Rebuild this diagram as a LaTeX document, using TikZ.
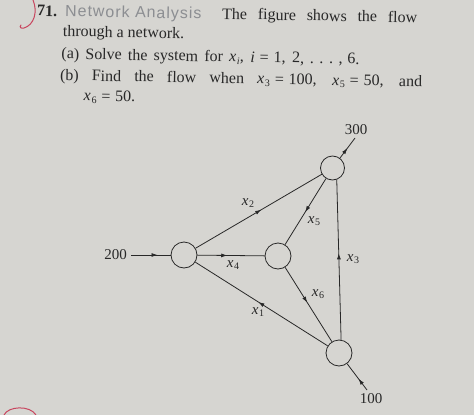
\documentclass[tikz,border=0pt]{standalone}
\usepackage{fontspec}
\setmainfont{Liberation Serif}
\newfontfamily\headsans[LetterSpace=6]{Liberation Sans}
\usetikzlibrary{calc,arrows.meta}
\definecolor{bg}{RGB}{214,213,209}
\definecolor{ink}{RGB}{40,40,40}
\definecolor{headgray}{RGB}{140,142,146}
\definecolor{pen}{RGB}{200,70,95}
\newcommand\xv[1]{\textit{x}\kern0.05em\raisebox{-0.3ex}{\fontsize{10}{10}\selectfont #1}}
\newcommand\eqs{\kern0.3em=\kern0.3em}
\newcommand\flowline[3]{%
  \draw[edge] (#1) -- (#2);
  \draw[edge, -{Latex[length=6pt,width=4pt]}] ($(#1)!#3-0.03!(#2)$) -- ($(#1)!#3!(#2)$);}
\tikzset{
 edge/.style={draw=ink, line width=0.8pt},
 junction/.style={circle, draw=ink, line width=0.8pt, minimum size=26pt, inner sep=0pt},
 lbl/.style={text=ink, font=\fontsize{15}{15}\selectfont, inner sep=1pt},
 txt/.style={text=ink, font=\fontsize{16}{19}\selectfont, anchor=base west, inner sep=0pt},
 penmark/.style={draw=pen, line width=1pt, line cap=round},
}
\begin{document}
\begin{tikzpicture}[x=1pt,y=-1pt]
\fill[bg] (0,0) rectangle (474,415);
\useasboundingbox (0,0) rectangle (474,415);

\begin{scope}[rotate around={-1:(40,16)}, transform shape]
\node[txt, font=\fontsize{16}{19}\selectfont\bfseries] (num) at (37,16) {71.};
\node[txt, text=headgray, font=\fontsize{16}{19}\headsans] (head) at (65,16) {Network Analysis};
\node[txt] (l1) at (222,16) {\makebox[195pt][s]{The figure shows the flow}};
\node[txt] (l2) at (63,36) {through a network.};
\node[txt] (l3) at (62,58.5) {\makebox[298pt][s]{(a) Solve the system for \xv{\textit{i}}, \textit{i}\eqs 1, 2,\kern0.35em.\kern0.35em.\kern0.35em.\kern0.35em,\kern0.3em6.}};
\node[txt] (l4) at (61,80) {\makebox[362pt][s]{(b) Find the flow when \xv{3}\eqs 100, \xv{5}\eqs 50, and}};
\node[txt] (l5) at (85,100) {\xv{6}\eqs 50.};
\end{scope}

\draw[penmark] (33,0) .. controls (38,12) and (34,25) .. (24,28) .. controls (21,29) and (19,27) .. (21,25);
\draw[penmark] (4,415) .. controls (8,406) and (30,405) .. (36,415);

\node[junction] (L) at (184,255) {};
\node[junction] (M) at (278,256) {};
\node[junction, minimum size=24pt] (T) at (332.5,168) {};
\node[junction] (B) at (339,353) {};
\coordinate (in200) at (131,255);
\coordinate (out300) at (355,138);
\coordinate (in100) at (367,390);
\coordinate (Bt) at (B.81);
\coordinate (Tb) at (T.-70);
\node[lbl, anchor=east] (n200) at (128,255) {200};
\node[lbl] (n300) at (356,130) {300};
\node[lbl] (n100) at (371,399) {100};

\flowline{in200}{L}{0.5}
\flowline{L}{T}{0.52}
\flowline{L}{M}{0.46}
\flowline{B}{L}{0.52}
\flowline{T}{M}{0.5}
\flowline{Bt}{Tb}{0.54}
\flowline{M}{B}{0.48}
\flowline{T}{out300}{0.66}
\flowline{in100}{B}{0.3}

\node[lbl] (lx2) at (248,203) {\xv{2}};
\node[lbl] (lx4) at (233,265) {\xv{4}};
\node[lbl] (lx1) at (258,312) {\xv{1}};
\node[lbl] (lx5) at (314,221) {\xv{5}};
\node[lbl] (lx3) at (353,259) {\xv{3}};
\node[lbl] (lx6) at (318,294) {\xv{6}};
\end{tikzpicture}
\end{document}
